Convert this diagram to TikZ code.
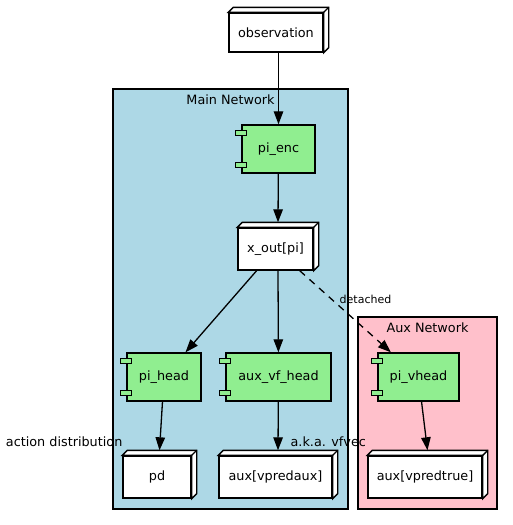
\documentclass[tikz,border=0pt]{standalone}
\usepackage{fontspec}
\setmainfont{DejaVu Sans}
\usetikzlibrary{arrows.meta}
\definecolor{lightgreen}{HTML}{90EE90}
\definecolor{lightblue}{HTML}{ADD8E6}
\definecolor{pink}{HTML}{FFC0CB}

\begin{document}
\begin{tikzpicture}[x=1pt,y=-1pt,line width=1.3pt,
        font=\fontsize{12.8}{15}\selectfont,
        tensor/.style={draw,fill=white,inner sep=0pt,line width=1.4pt,minimum height=42pt},
        module/.style={draw,fill=lightgreen,inner sep=0pt,line width=1.4pt,minimum height=48pt},
        tab/.style={draw,fill=lightgreen,line width=1pt},
        cluster/.style={draw,inner sep=0pt,line width=1.4pt},
        note/.style={inner sep=0pt},
        edge/.style={-{Triangle[length=13pt,width=9.5pt]}}]
                    \useasboundingbox (0,0) rectangle (513,525);
                    \node[cluster,fill=lightblue,minimum width=235pt,minimum height=420pt] (mainnet) at (230.5,299) {};
                    \node (mainlabel) at (230.5,100) {Main Network};
                    \node[cluster,fill=pink,minimum width=139pt,minimum height=192pt] (auxnet) at (427.5,413) {};
                    \node (auxlabel) at (427.5,328) {Aux Network};
                    \node[tensor,minimum width=94pt,minimum height=39pt] (obs) at (276,32.5) {observation};
                    \node[tensor,minimum width=75pt] (xout) at (275.5,249) {x\_out[pi]};
                    \node[tensor,minimum width=68pt] (pd) at (157,477) {pd};
                    \node[tensor,minimum width=113pt] (vpredaux) at (275.5,477) {aux[vpredaux]};
                    \node[tensor,minimum width=114pt] (vpredtrue) at (425,477) {aux[vpredtrue]};
                    \foreach \n in {obs,xout,pd,vpredaux,vpredtrue} {
                        \filldraw[fill=white,line width=1.4pt] (\n.north west) -- ++(5pt,5pt) -- ([shift={(5pt,5pt)}]\n.north east)
                            -- ([shift={(5pt,5pt)}]\n.south east) -- (\n.south east) -- (\n.north east) -- cycle;
                        \draw[line width=1.4pt] (\n.north east) -- ++(5pt,5pt);
                        \coordinate (\n-top) at ([shift={(2.5pt,5pt)}]\n.north);
                    }
                    \node[module,minimum width=73pt] (pienc) at (278.5,149) {pi\_enc};
                    \node[module,minimum width=74pt] (pihead) at (164,377) {pi\_head};
                    \node[module,minimum width=105pt] (auxvf) at (278.5,377) {aux\_vf\_head};
                    \node[module,minimum width=81pt] (pivhead) at (418.5,377) {pi\_vhead};
                    \foreach \n in {pienc,pihead,auxvf,pivhead} {
                        \draw[tab] ([shift={(-5.5pt,-6pt)}]\n.north west) rectangle ++(11pt,-5pt);
                        \draw[tab] ([shift={(-5.5pt,6pt)}]\n.south west) rectangle ++(11pt,5pt);
                    }
                    \draw[edge] ([xshift=2.5pt]obs.south) -- (pienc);
                    \draw[edge] (pienc) -- (xout-top);
                    \draw[edge] (xout) -- (pihead);
                    \draw[edge] ([xshift=2.5pt]xout.south) -- (auxvf);
                    \draw[edge,dash pattern=on 7pt off 6pt] (xout) -- (pivhead);
                    \draw[edge] (pihead) -- (pd-top);
                    \draw[edge] (auxvf) -- (vpredaux-top);
                    \draw[edge] (pivhead) -- (vpredtrue-top);
                    \node[note,font=\fontsize{11}{13}\selectfont] (detlabel) at (365.5,299) {detached};
                    \node[note,anchor=east] (pdnote) at (123,442) {action distribution};
                    \node[note,anchor=west] (auxnote) at (290,442) {a.k.a. vfvec};
                \end{tikzpicture}
\end{document}
